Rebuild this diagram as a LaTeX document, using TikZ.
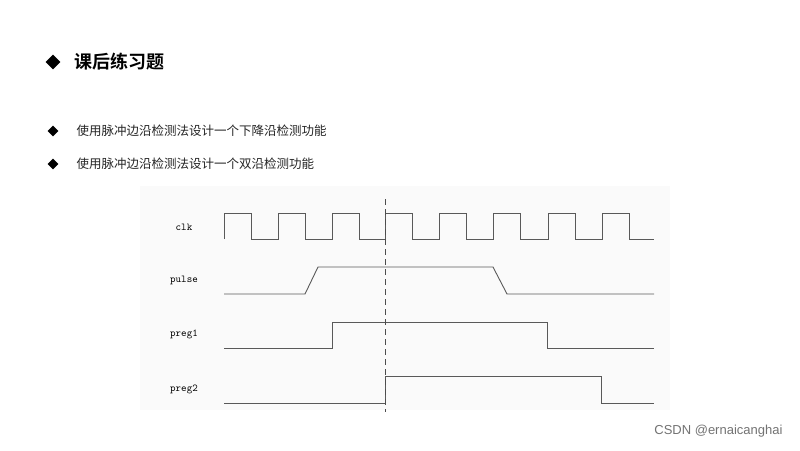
\documentclass[tikz,border=0pt]{standalone}
\usepackage{fontspec}
\newfontfamily\cjk{Noto Sans CJK SC}
\newfontfamily\cjkb{Noto Sans CJK SC Bold}
\usetikzlibrary{shapes.geometric}

\begin{document}
\begin{tikzpicture}[x=1pt, y=-1pt,
    bullet/.style={diamond, fill=black, inner sep=0pt, minimum width=11pt, minimum height=11pt},
    item/.style={anchor=west, font=\cjk\fontsize{12.5}{14}\selectfont, text=black!85},
    signame/.style={font=\ttfamily\fontsize{10.5}{12}\selectfont},
    wave/.style={draw=black!65, line width=0.9pt}
]

% Page background
\fill[white] (0,0) rectangle (800,450);
\useasboundingbox (0,0) rectangle (800,450);

% Title
\node[bullet, minimum width=15pt, minimum height=15pt] (tbul) at (53,62) {};
\node[anchor=west, font=\cjkb\fontsize{18}{20}\selectfont] (title) at (71,62) {课后练习题};

% Exercise items
\node[bullet] (bul1) at (53,131) {};
\node[item] (item1) at (73,131) {使用脉冲边沿检测法设计一个下降沿检测功能};
\node[bullet] (bul2) at (53,164) {};
\node[item] (item2) at (73,164) {使用脉冲边沿检测法设计一个双沿检测功能};

% Waveform panel
\fill[black!2] (140,186) rectangle (670,410);

% Signal names
\node[signame] (clk) at (184,227) {clk};
\node[signame] (pulse) at (184,280) {pulse};
\node[signame] (preg1) at (184,334) {preg1};
\node[signame] (preg2) at (184,389) {preg2};

% clk
\draw[wave] (224,239)
  \foreach \x in {224,278,332,385,439,493,548,602}
    { -- (\x,239) -- (\x,213) -- (\x+27,213) -- (\x+27,239) } -- (654,239);

% pulse
\draw[wave] (224,294) -- (305,294) -- (318,267) -- (493,267) -- (507,294) -- (654,294);

% preg1
\draw[wave] (224,348) -- (332,348) -- (332,322) -- (547,322) -- (547,348) -- (654,348);

% preg2
\draw[wave] (224,403) -- (385,403) -- (385,376) -- (601,376) -- (601,403) -- (654,403);

% Sampling edge marker
\draw[black!70, dash pattern=on 6pt off 4pt, line width=0.8pt] (385,199) -- (385,412);

% Watermark
\node[anchor=east, font=\fontspec{Liberation Sans}\fontsize{13}{15}\selectfont, text=black!55] (mark) at (786,431) {CSDN @ernaicanghai};

\end{tikzpicture}
\end{document}
